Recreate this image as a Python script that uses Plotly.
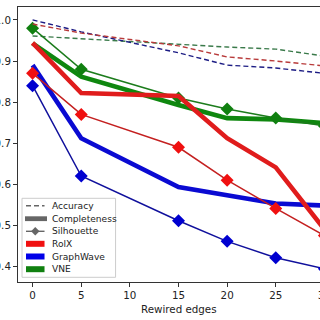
import plotly.graph_objects as go

# ---------------- data ----------------
rewired = [0, 5, 15, 20, 25, 30]
methods = ["RolX", "GraphWave", "VNE"]
metrics = ["Accuracy", "Completeness", "Silhouette"]

rolx_accuracy = [0.990, 0.968, 0.937, 0.910, 0.900, 0.888]
rolx_completeness = [0.944, 0.822, 0.815, 0.712, 0.641, 0.490]
rolx_silhouette = [0.870, 0.770, 0.690, 0.610, 0.541, 0.475]

graphwave_accuracy = [1.000, 0.971, 0.920, 0.890, 0.883, 0.870]
graphwave_completeness = [0.890, 0.712, 0.593, 0.573, 0.553, 0.548]
graphwave_silhouette = [0.840, 0.620, 0.511, 0.461, 0.421, 0.394]

vne_accuracy = [0.961, 0.954, 0.941, 0.934, 0.929, 0.912]
vne_completeness = [0.943, 0.862, 0.793, 0.761, 0.758, 0.749]
vne_silhouette = [0.980, 0.880, 0.810, 0.783, 0.761, 0.742]

y_ticks = [0.4, 0.5, 0.6, 0.7, 0.8, 0.9, 1.0]
x_ticks = [0, 5, 10, 15, 20, 25, 30]

# ---------------- styles ----------------
FONT = "DejaVu Sans"
col_thick = {"RolX": "#e01c1c", "GraphWave": "#0a0ad2", "VNE": "#0f870f"}
col_thin = {"RolX": "#c42020", "GraphWave": "#10109c", "VNE": "#1c7c1c"}
col_dash = {"RolX": "#b83a3a", "GraphWave": "#1c1c84", "VNE": "#3a7a4a"}
col_patch = {"RolX": "#f01010", "GraphWave": "#0000e8", "VNE": "#108010"}
col_marker = {"RolX": "#f01010", "GraphWave": "#0000d0", "VNE": "#108010"}

series = {
    "RolX": (rolx_accuracy, rolx_completeness, rolx_silhouette),
    "GraphWave": (graphwave_accuracy, graphwave_completeness, graphwave_silhouette),
    "VNE": (vne_accuracy, vne_completeness, vne_silhouette),
}

fig = go.Figure()
for m in ["VNE", "GraphWave", "RolX"]:
    acc, comp, sil = series[m]
    fig.add_trace(go.Scatter(x=rewired, y=acc, mode="lines", showlegend=False,
                             line=dict(color=col_dash[m], width=1.4, dash="5px,3px")))
    fig.add_trace(go.Scatter(x=rewired, y=comp, mode="lines", showlegend=False,
                             line=dict(color=col_thick[m], width=4.6)))
    fig.add_trace(go.Scatter(x=rewired, y=sil, mode="lines+markers", showlegend=False,
                             line=dict(color=col_thin[m], width=1.5),
                             marker=dict(symbol="diamond", size=10, color=col_marker[m],
                                         line=dict(width=0))))

# ---------------- layout ----------------
# the original figure is wider than the 320 px crop: the plot runs past the right edge
W, H = 340, 320
L, T, B = 18, 7, 38
PX_PER_UNIT = 9.72
X_RANGE = [-1.5, 31.5]
PW = (X_RANGE[1] - X_RANGE[0]) * PX_PER_UNIT
R = W - L - PW
PH = H - T - B
bottom_px = H - B


def px2x(p):
    return (p - L) / PW


def py2y(p):
    return (bottom_px - p) / PH


shapes = []
annotations = []

# manual legend (matplotlib style)
leg_x0, leg_x1, leg_y0, leg_y1 = 22, 115.5, 198.3, 277.3
shapes.append(dict(type="rect", xref="paper", yref="paper",
                   x0=px2x(leg_x0), x1=px2x(leg_x1), y0=py2y(leg_y1), y1=py2y(leg_y0),
                   line=dict(color="#cccccc", width=1), fillcolor="rgba(255,255,255,0.85)", layer="above"))
labels = metrics + methods
row_y = [205.7, 218.7, 231.3, 243.8, 256.5, 269.2]
sx0, sx1, tx = 26, 44.5, 50
for lab, yc in zip(labels, row_y):
    if lab == "Accuracy":
        shapes.append(dict(type="line", xref="paper", yref="paper", x0=px2x(sx0), x1=px2x(sx1),
                           y0=py2y(yc), y1=py2y(yc), line=dict(color="#666666", width=1.4, dash="5px,3px"), layer="above"))
    elif lab == "Completeness":
        shapes.append(dict(type="rect", xref="paper", yref="paper", x0=px2x(25), x1=px2x(47),
                           y0=py2y(yc + 2.4), y1=py2y(yc - 2.4), line=dict(width=0), fillcolor="#666666", layer="above"))
    elif lab == "Silhouette":
        shapes.append(dict(type="line", xref="paper", yref="paper", x0=px2x(sx0), x1=px2x(sx1),
                           y0=py2y(yc), y1=py2y(yc), line=dict(color="#666666", width=1.4), layer="above"))
        cx, r = (sx0 + sx1) / 2, 4.2
        path = "M {} {} L {} {} L {} {} L {} {} Z".format(
            px2x(cx - r), py2y(yc), px2x(cx), py2y(yc - r), px2x(cx + r), py2y(yc), px2x(cx), py2y(yc + r))
        shapes.append(dict(type="path", xref="paper", yref="paper", path=path,
                           fillcolor="#666666", line=dict(width=0), layer="above"))
    else:
        shapes.append(dict(type="rect", xref="paper", yref="paper", x0=px2x(sx0), x1=px2x(sx1),
                           y0=py2y(yc + 3), y1=py2y(yc - 3), line=dict(width=0),
                           fillcolor=col_patch[lab], layer="above"))
    annotations.append(dict(text=lab, xref="paper", yref="paper", x=px2x(tx), y=py2y(yc),
                            xanchor="left", yanchor="middle", showarrow=False,
                            font=dict(family=FONT, size=9.1, color="#222222")))

# x-axis title centred on the full axis
annotations.append(dict(text="Rewired edges", xref="paper", yref="paper", x=0.5, y=py2y(309.3),
                        xanchor="center", yanchor="middle", showarrow=False,
                        font=dict(family=FONT, size=10.3, color="#222222")))

fig.update_layout(
    width=W, height=H, margin=dict(l=L, r=R, t=T, b=B, pad=0),
    paper_bgcolor="white", plot_bgcolor="white",
    font=dict(family=FONT, size=10, color="#222222"),
    shapes=shapes, annotations=annotations, showlegend=False,
    xaxis=dict(range=X_RANGE, tickvals=x_ticks, ticks="outside", ticklen=4,
               tickcolor="#333333", showline=True, linecolor="#333333", linewidth=1, mirror=True,
               showgrid=False, zeroline=False, automargin=False,
               tickfont=dict(family=FONT, size=10.3, color="#222222")),
    yaxis=dict(range=[0.362, 1.0315], tickvals=y_ticks, tickformat=".1f", ticks="outside", ticklen=4,
               tickcolor="#333333", showline=True, linecolor="#333333", linewidth=1, mirror=True,
               showgrid=False, zeroline=False, automargin=False,
               tickfont=dict(family=FONT, size=10.3, color="#222222")),
)

fig.write_html("out.html",
               post_script="document.documentElement.style.overflow='hidden';"
                           "document.body.style.overflow='hidden';document.body.style.margin='0';")
